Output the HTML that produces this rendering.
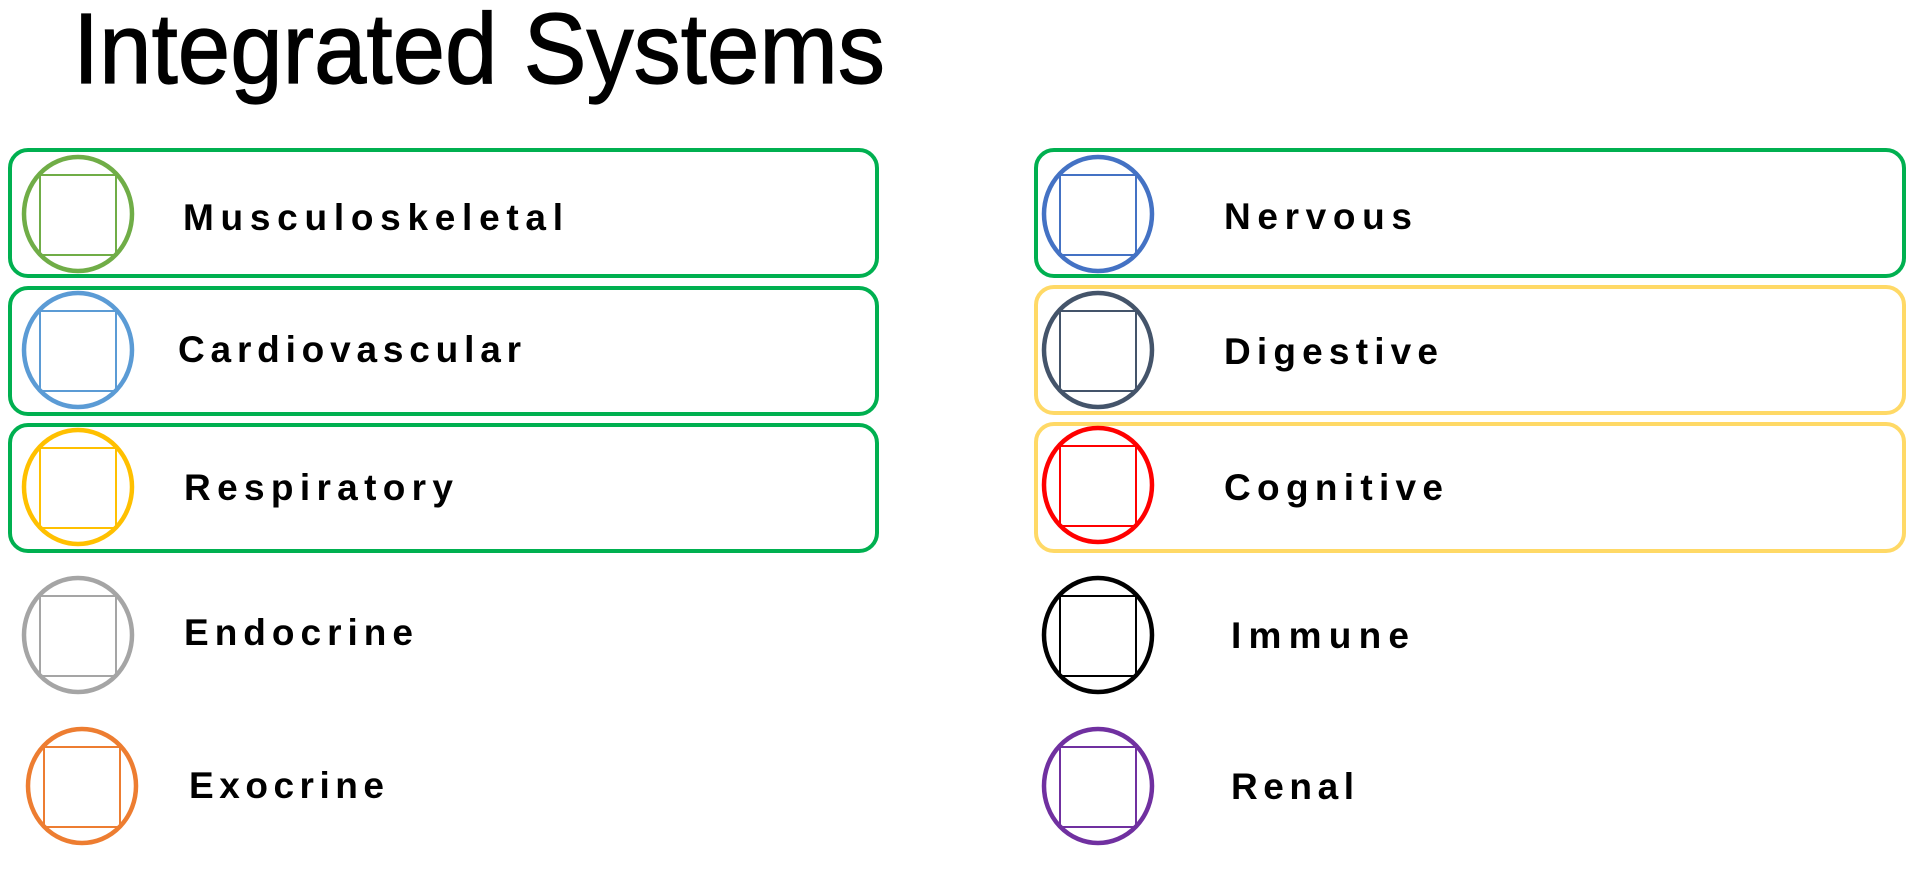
<!DOCTYPE html>
<html><head><meta charset="utf-8"><style>
html,body{margin:0;padding:0;background:#fff;width:1910px;height:873px;overflow:hidden}
svg{display:block}
.t{font-family:"Liberation Sans",sans-serif;font-weight:bold;font-size:37px;fill:#000}
</style></head><body>
<svg width="1910" height="873" viewBox="0 0 1910 873" xmlns="http://www.w3.org/2000/svg">
<text x="73" y="83" font-family="Liberation Sans, sans-serif" font-size="100" fill="#000" stroke="#000" stroke-width="1.2" textLength="812" lengthAdjust="spacingAndGlyphs">Integrated Systems</text>

<g fill="none" stroke-width="4">
<rect x="10" y="150" width="867" height="126" rx="18" stroke="#00B050"/>
<rect x="10" y="288" width="867" height="126" rx="18" stroke="#00B050"/>
<rect x="10" y="425" width="867" height="126" rx="18" stroke="#00B050"/>
<rect x="1036" y="150" width="868" height="126" rx="18" stroke="#00B050"/>
<rect x="1036" y="287" width="868" height="126" rx="18" stroke="#FFD966"/>
<rect x="1036" y="424" width="868" height="127" rx="18" stroke="#FFD966"/>
</g>

<g fill="none">
<g stroke="#70AD47"><ellipse cx="78" cy="214" rx="54" ry="57" stroke-width="4.5"/><rect x="40" y="175" width="76" height="80" stroke-width="2"/></g>
<g stroke="#5B9BD5"><ellipse cx="78" cy="350" rx="54" ry="57" stroke-width="4.5"/><rect x="40" y="311" width="76" height="80" stroke-width="2"/></g>
<g stroke="#FFC000"><ellipse cx="78" cy="487" rx="54" ry="57" stroke-width="4.5"/><rect x="40" y="448" width="76" height="80" stroke-width="2"/></g>
<g stroke="#A5A5A5"><ellipse cx="78" cy="635" rx="54" ry="57" stroke-width="4.5"/><rect x="40" y="596" width="76" height="80" stroke-width="2"/></g>
<g stroke="#ED7D31"><ellipse cx="82" cy="786" rx="54" ry="57" stroke-width="4.5"/><rect x="44" y="747" width="76" height="80" stroke-width="2"/></g>

<g stroke="#4472C4"><ellipse cx="1098" cy="214" rx="54" ry="57" stroke-width="4.5"/><rect x="1060" y="175" width="76" height="80" stroke-width="2"/></g>
<g stroke="#44546A"><ellipse cx="1098" cy="350" rx="54" ry="57" stroke-width="4.5"/><rect x="1060" y="311" width="76" height="80" stroke-width="2"/></g>
<g stroke="#FF0000"><ellipse cx="1098" cy="485" rx="54" ry="57" stroke-width="4.5"/><rect x="1060" y="446" width="76" height="80" stroke-width="2"/></g>
<g stroke="#000000"><ellipse cx="1098" cy="635" rx="54" ry="57" stroke-width="4.5"/><rect x="1060" y="596" width="76" height="80" stroke-width="2"/></g>
<g stroke="#7030A0"><ellipse cx="1098" cy="786" rx="54" ry="57" stroke-width="4.5"/><rect x="1060" y="747" width="76" height="80" stroke-width="2"/></g>
</g>

<text class="t" x="183" y="230" textLength="380" lengthAdjust="spacing">Musculoskeletal</text>
<text class="t" x="178" y="362" textLength="343" lengthAdjust="spacing">Cardiovascular</text>
<text class="t" x="184" y="500" textLength="269" lengthAdjust="spacing">Respiratory</text>
<text class="t" x="184" y="645" textLength="229" lengthAdjust="spacing">Endocrine</text>
<text class="t" x="189" y="798" textLength="195" lengthAdjust="spacing">Exocrine</text>
<text class="t" x="1224" y="229" textLength="188" lengthAdjust="spacing">Nervous</text>
<text class="t" x="1224" y="364" textLength="214" lengthAdjust="spacing">Digestive</text>
<text class="t" x="1224" y="500" textLength="219" lengthAdjust="spacing">Cognitive</text>
<text class="t" x="1231" y="648" textLength="178" lengthAdjust="spacing">Immune</text>
<text class="t" x="1231" y="799" textLength="123" lengthAdjust="spacing">Renal</text>
</svg>
</body></html>
